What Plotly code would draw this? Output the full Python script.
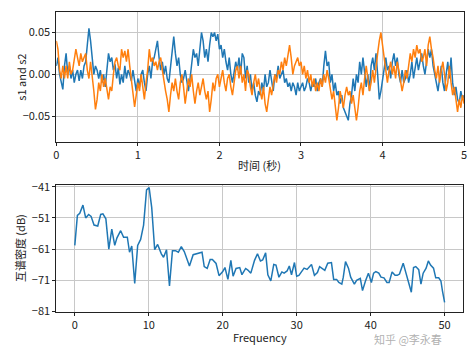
import plotly.graph_objects as go
from plotly.subplots import make_subplots

# ---- data ----
s1 = [0.01, 0.02, 0.0, -0.01, -0.018, 0.01, 0.025, 0.0, 0.01, -0.005,
      0.005, -0.01, 0.0, 0.005, -0.008, 0.005, -0.005, 0.01, 0.015, 0.035,
      0.055, 0.04, 0.015, 0.0, 0.01, 0.005, -0.005, 0.005, -0.01, 0.0,
      -0.015, 0.01, 0.025, 0.015, 0.02, 0.005, 0.012, -0.005, 0.008, -0.012,
      0.0, -0.01, 0.01, -0.005, 0.005, 0.0, -0.008, 0.005, -0.01, -0.02,
      -0.005, -0.015, 0.0, 0.005, -0.01, -0.02, 0.0, 0.01, -0.005, 0.015,
      0.02, 0.03, 0.04, 0.02, 0.005, 0.015, 0.0, 0.01, -0.005, -0.01,
      0.01, 0.03, 0.045, 0.025, 0.01, 0.02, 0.0, -0.01, -0.005, 0.005,
      -0.01, -0.02, -0.005, 0.015, 0.03, 0.02, 0.025, 0.01, 0.03, 0.05,
      0.04, 0.02, 0.03, 0.015, 0.035, 0.05, 0.045, 0.05, 0.04, 0.048,
      0.03, 0.035, 0.02, 0.03, 0.015, 0.005, 0.02, 0.0, -0.01, 0.005,
      0.015, 0.005, 0.02, 0.0, 0.025, 0.02, -0.005, 0.01, -0.01, 0.0,
      -0.02, -0.01, -0.025, -0.033, -0.02, -0.025, -0.01, -0.02, 0.0, -0.015,
      -0.01, 0.005, -0.01, -0.02, 0.0, -0.005, 0.01, -0.005, 0.0, 0.005,
      -0.01, -0.005, -0.015, -0.01, -0.02, -0.01, -0.015, -0.025, -0.01, -0.02,
      -0.015, -0.01, -0.02, -0.015, -0.005, -0.01, -0.02, -0.01, -0.015, -0.005,
      -0.02, -0.01, -0.005, -0.015, 0.01, 0.028, 0.01, 0.015, -0.01, 0.0,
      -0.02, -0.01, -0.025, -0.02, -0.035, -0.025, -0.04, -0.045, -0.05, -0.055,
      -0.035, -0.025, -0.005, -0.02, 0.0, -0.01, 0.015, 0.0, 0.02, 0.005,
      -0.015, 0.0, -0.02, 0.01, 0.02, 0.005, 0.025, 0.0, -0.03, -0.02,
      -0.005, 0.01, 0.02, 0.005, 0.01, -0.005, 0.015, 0.025, 0.01, 0.02,
      0.0, -0.01, 0.005, -0.01, -0.005, 0.005, -0.01, 0.0, 0.015, -0.005,
      0.01, 0.02, 0.005, 0.015, 0.025, 0.01, 0.0, 0.015, 0.03, 0.02,
      0.03, 0.01, 0.0, -0.01, -0.02, -0.005, 0.01, -0.01, -0.02, 0.0,
      0.015, -0.005, 0.02, -0.01, -0.025, -0.015, -0.03, -0.035, -0.02, -0.03,
      -0.025]

s2 = [0.04, 0.03, 0.005, -0.005, 0.01, -0.005, 0.01, -0.005, 0.015, 0.0,
      0.005, 0.02, 0.03, 0.02, 0.01, 0.025, 0.015, 0.02, 0.025, 0.005,
      -0.005, 0.015, 0.0, -0.02, -0.042, -0.03, -0.01, -0.02, 0.0, -0.015,
      -0.005, -0.02, -0.03, -0.015, -0.02, 0.0, 0.015, 0.02, 0.01, 0.005,
      0.03, 0.02, 0.028, 0.015, 0.03, 0.01, -0.005, -0.02, -0.039, -0.025,
      -0.01, -0.02, 0.0, -0.015, -0.03, -0.01, 0.005, 0.03, 0.015, 0.02,
      0.01, 0.015, 0.005, 0.015, 0.02, 0.005, -0.01, -0.02, -0.03, -0.045,
      -0.025, -0.01, -0.02, -0.005, -0.02, -0.03, -0.01, 0.0, -0.015, -0.035,
      -0.02, -0.005, -0.015, 0.0, -0.02, -0.035, -0.02, -0.01, -0.025, -0.015,
      -0.005, -0.02, -0.03, -0.02, -0.045, -0.03, -0.01, -0.02, -0.005, 0.0,
      -0.015, -0.005, 0.005, -0.01, -0.02, -0.005, 0.0, -0.015, -0.025, -0.01,
      0.005, 0.01, -0.005, 0.01, -0.01, 0.0, -0.02, 0.005, 0.0, -0.015,
      -0.025, -0.01, 0.0, -0.015, -0.005, -0.02, -0.03, -0.015, -0.035, -0.045,
      -0.03, -0.015, -0.025, -0.01, 0.0, -0.01, 0.005, 0.0, 0.015, 0.005,
      0.02, 0.01, 0.025, 0.035, 0.02, 0.0, 0.01, 0.015, 0.02, 0.01,
      0.015, 0.0, 0.01, -0.005, 0.005, -0.01, 0.0, -0.015, -0.005, -0.02,
      -0.01, -0.02, -0.005, -0.015, 0.0, -0.01, 0.005, -0.005, -0.02, -0.03,
      -0.02, -0.035, -0.055, -0.04, -0.02, -0.03, -0.04, -0.025, -0.015, -0.025,
      -0.02, -0.035, -0.025, -0.04, -0.055, -0.04, -0.02, -0.01, -0.025, -0.005,
      0.01, -0.005, -0.02, -0.01, 0.005, -0.01, 0.01, 0.025, 0.04, 0.05,
      0.035, 0.02, 0.0, -0.01, 0.005, 0.015, 0.0, 0.01, -0.005, 0.015,
      0.005, -0.01, -0.02, -0.01, 0.005, -0.005, 0.01, 0.025, 0.015, 0.03,
      0.02, 0.035, 0.025, 0.03, 0.015, 0.02, 0.03, 0.01, 0.035, 0.045,
      0.03, 0.02, 0.005, -0.005, 0.01, -0.01, 0.005, 0.015, 0.0, -0.02,
      -0.01, 0.01, -0.01, -0.025, -0.015, -0.03, -0.045, -0.03, -0.04, -0.025,
      -0.035]

dt = 0.02
t1 = [round(i * dt, 2) for i in range(len(s1))]
t2 = [round(i * dt, 2) for i in range(len(s2))]

freq = [0, 0.35, 0.67, 1.1, 1.47, 1.87, 2.2, 2.6, 3.1, 3.5,
        3.8, 4.2, 4.6, 5.0, 5.4, 5.7, 6.2, 6.6, 7.1, 7.4,
        7.7, 8.1, 8.5, 8.9, 9.3, 9.7, 10.05, 10.4, 10.8, 11.2,
        11.7, 12.0, 12.4, 12.8, 13.2, 13.6, 14.0, 14.4, 14.8, 15.1,
        15.5, 16.0, 16.4, 16.8, 17.2, 17.5, 17.9, 18.3, 18.6, 19.1,
        19.5, 20.0, 20.3, 20.7, 21.1, 21.4, 21.8, 22.3, 22.6, 23.1,
        23.4, 23.8, 24.3, 24.7, 25.1, 25.4, 25.8, 26.1, 26.5, 26.9,
        27.2, 27.6, 28.0, 28.3, 28.7, 29.0, 29.3, 29.7, 30.0, 30.3,
        30.7, 31.0, 31.4, 31.7, 32.0, 32.4, 32.8, 33.1, 33.5, 33.8,
        34.2, 34.7, 35.0, 35.4, 35.7, 36.1, 36.3, 36.6, 37.0, 37.3,
        37.8, 38.1, 38.6, 38.9, 39.3, 39.7, 40.1, 40.4, 40.7, 41.1,
        41.4, 41.8, 42.2, 42.5, 42.9, 43.3, 43.6, 43.9, 44.4, 44.7,
        45.1, 45.5, 45.8, 46.1, 46.5, 46.8, 47.1, 47.5, 47.8, 48.1,
        48.5, 48.8, 49.2, 49.5, 49.7, 50.0]

csd_db = [-59.8, -50.2, -49.5, -46.9, -51.0, -49.9, -50.5, -53.3, -53.6, -49.9,
          -49.7, -51.3, -61.0, -54.6, -59.8, -57.4, -55.1, -57.2, -57.2, -62.0,
          -60.0, -72.0, -59.8, -57.9, -53.3, -42.0, -41.3, -47.7, -61.2, -59.5,
          -62.5, -63.6, -61.2, -72.8, -61.5, -61.5, -62.0, -60.2, -61.8, -64.1,
          -66.4, -62.8, -62.5, -62.2, -62.0, -66.6, -67.2, -64.3, -64.3, -65.6,
          -69.5, -68.2, -66.9, -70.7, -64.6, -69.7, -67.2, -66.9, -69.2, -67.2,
          -67.7, -68.7, -64.6, -62.5, -64.8, -64.5, -62.2, -69.2, -71.2, -65.9,
          -66.1, -70.0, -68.3, -68.7, -68.0, -66.4, -69.2, -65.3, -69.7, -69.4,
          -68.0, -67.1, -67.5, -66.6, -65.9, -69.4, -68.5, -66.6, -67.3, -67.8,
          -65.5, -65.3, -70.7, -70.7, -71.7, -72.2, -70.0, -65.0, -67.1, -70.0,
          -72.2, -71.0, -70.4, -74.3, -71.2, -68.7, -71.7, -68.7, -68.2, -68.7,
          -70.0, -70.2, -71.7, -71.7, -68.3, -69.4, -69.4, -69.0, -65.5, -68.0,
          -71.2, -74.8, -66.9, -66.6, -67.6, -72.2, -68.7, -67.1, -64.8, -66.1,
          -67.1, -70.2, -70.2, -71.2, -74.3, -78.1]

top_xticks = [0, 1, 2, 3, 4, 5]
top_yticks = [-0.05, 0.0, 0.05]
bot_xticks = [0, 10, 20, 30, 40, 50]
bot_yticks = [-81, -71, -61, -51, -41]

BLUE = "#1f77b4"
ORANGE = "#ff7f0e"
FONT = "Noto Sans CJK SC"
W, H = 474, 353

fig = make_subplots(rows=2, cols=1)
fig.add_trace(go.Scatter(x=t1, y=s1, mode="lines", line=dict(color=BLUE, width=1.5),
                         showlegend=False), row=1, col=1)
fig.add_trace(go.Scatter(x=t2, y=s2, mode="lines", line=dict(color=ORANGE, width=1.5),
                         showlegend=False), row=1, col=1)
fig.add_trace(go.Scatter(x=freq, y=csd_db, mode="lines", line=dict(color=BLUE, width=1.5),
                         showlegend=False), row=2, col=1)

axis_common = dict(showline=True, mirror=True, linecolor="#222", linewidth=1,
                   ticks="outside", ticklen=3, tickcolor="#222", tickwidth=1,
                   showgrid=True, gridcolor="#c8c8c8", gridwidth=1, zeroline=False,
                   tickfont=dict(family=FONT, size=11, color="#222"))

fig.update_xaxes(range=[0, 5], tickvals=top_xticks, domain=[54 / W, 467 / W],
                 **axis_common, row=1, col=1)
fig.update_yaxes(range=[-0.081, 0.0747], tickvals=top_yticks, tickformat=".2f",
                 domain=[1 - 140 / H, 1 - 4 / H], **axis_common, row=1, col=1)
fig.update_xaxes(range=[-2.5, 52.5], tickvals=bot_xticks, domain=[54 / W, 466 / W],
                 **axis_common, row=2, col=1)
fig.update_yaxes(range=[-81, -40.5], tickvals=bot_yticks,
                 domain=[1 - 317 / H, 1 - 185 / H], **axis_common, row=2, col=1)

ann_font = dict(family=FONT, size=11, color="#222")
fig.add_annotation(text="时间 (秒)", x=260 / W, y=1 - 164 / H, xref="paper", yref="paper",
                   showarrow=False, font=ann_font, xanchor="center", yanchor="middle")
fig.add_annotation(text="Frequency", x=260 / W, y=1 - 344 / H, xref="paper", yref="paper",
                   showarrow=False, font=ann_font, xanchor="center", yanchor="middle")
fig.add_annotation(text="s1 and s2", x=18 / W, y=1 - 72 / H, xref="paper", yref="paper",
                   showarrow=False, font=ann_font, textangle=-90,
                   xanchor="center", yanchor="middle")
fig.add_annotation(text="互谱密度 (dB)", x=18 / W, y=1 - 251 / H, xref="paper", yref="paper",
                   showarrow=False, font=ann_font, textangle=-90,
                   xanchor="center", yanchor="middle")
fig.add_annotation(text="知乎 @李永春", x=410 / W, y=1 - 346 / H, xref="paper", yref="paper",
                   showarrow=False, font=dict(family=FONT, size=11, color="rgba(150,150,150,0.75)"),
                   xanchor="center", yanchor="middle")

fig.update_layout(width=W, height=H, margin=dict(l=0, r=0, t=0, b=0),
                  paper_bgcolor="white", plot_bgcolor="white",
                  font=dict(family=FONT, size=11, color="#222"))

fig.write_html("out.html")
